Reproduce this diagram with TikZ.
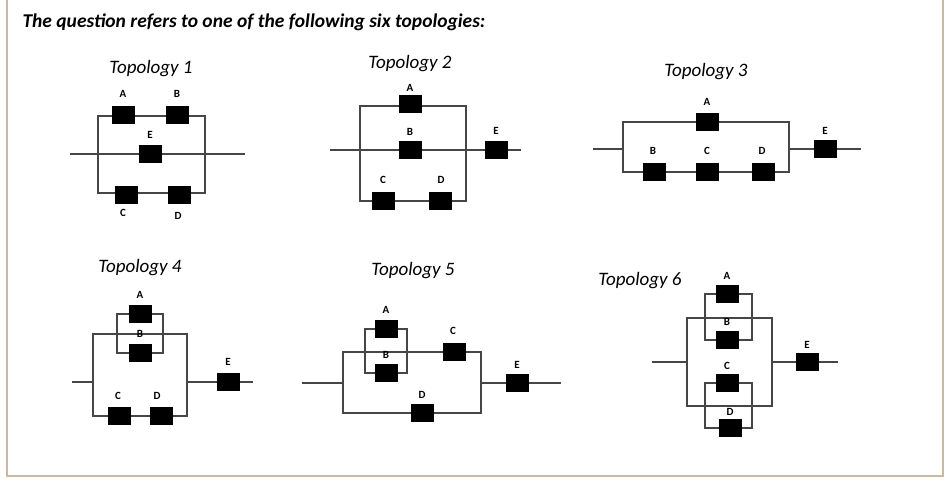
\documentclass[tikz,border=0pt]{standalone}
\usepackage{fontspec}
\setmainfont{Carlito}
\definecolor{frame}{RGB}{200,185,160}
\definecolor{wire}{RGB}{70,70,70}
\begin{document}
\begin{tikzpicture}[x=1pt,y=-1pt,
  w/.style={draw=wire,line width=1.2pt},
  blk/.style={fill=black,minimum width=23pt,minimum height=18pt,inner sep=0pt},
  lab/.style={font=\bfseries\fontsize{11}{12}\selectfont},
  ttl/.style={font=\itshape\fontsize{19}{22}\selectfont}]
\useasboundingbox (0,0) rectangle (948,481);
\draw[frame,line width=1.5pt] (7,0) -- (7,476) -- (943,476) -- (943,0);
\node[anchor=west,font=\bfseries\itshape\fontsize{19.5}{22}\selectfont] (title) at (19,22) {The question refers to one of the following six topologies:};
% ---------- Topology 1
\node[ttl] (t1) at (151,69) {Topology 1};
\draw[w] (98,116) rectangle (205,193);
\draw[w] (70,154) -- (245,154);
\node[blk] (a1) at (123,115) {}; \node[lab] at (123,94) {A};
\node[blk] (b1) at (177,115) {}; \node[lab] at (177,94) {B};
\node[blk] (e1) at (150,154) {}; \node[lab] at (150,135) {E};
\node[blk] (c1) at (126,195) {}; \node[lab] at (123,213) {C};
\node[blk] (d1) at (179,195) {}; \node[lab] at (178,216) {D};
% ---------- Topology 2
\node[ttl] (t2) at (410,64) {Topology 2};
\draw[w] (360,106) rectangle (466,201);
\draw[w] (330,150) -- (521,150);
\node[blk] (a2) at (410,104) {}; \node[lab] at (410,88) {A};
\node[blk] (b2) at (410,150) {}; \node[lab] at (410,132) {B};
\node[blk] (c2) at (383,201) {}; \node[lab] at (383,180) {C};
\node[blk] (d2) at (440,201) {}; \node[lab] at (441,180) {D};
\node[blk] (e2) at (496,150) {}; \node[lab] at (496,131) {E};
% ---------- Topology 3
\node[ttl] (t3) at (706,72) {Topology 3};
\draw[w] (623,122) rectangle (789,172);
\draw[w] (593,149) -- (623,149) (789,149) -- (861,149);
\node[blk] (a3) at (707,122) {}; \node[lab] at (707,102) {A};
\node[blk] (b3) at (654,172) {}; \node[lab] at (653,151) {B};
\node[blk] (c3) at (707,172) {}; \node[lab] at (707,151) {C};
\node[blk] (d3) at (763,172) {}; \node[lab] at (762,151) {D};
\node[blk] (e3) at (825,149) {}; \node[lab] at (825,131) {E};
% ---------- Topology 4
\node[ttl] (t4) at (140,268) {Topology 4};
\draw[w] (93,334) rectangle (187,416);
\draw[w] (117,314) rectangle (163,353);
\draw[w] (93,334) -- (117,334) (163,334) -- (187,334);
\draw[w] (72,382) -- (93,382) (187,382) -- (253,382);
\node[blk] (a4) at (140,314) {}; \node[lab] at (140,295) {A};
\node[blk] (b4) at (140,353) {}; \node[lab] at (140,334) {B};
\node[blk] (c4) at (119,416) {}; \node[lab] at (118,396) {C};
\node[blk] (d4) at (161,416) {}; \node[lab] at (157,396) {D};
\node[blk] (e4) at (228,382) {}; \node[lab] at (228,362) {E};
% ---------- Topology 5
\node[ttl] (t5) at (413,271) {Topology 5};
\draw[w] (343,352) rectangle (481,413);
\draw[w] (365,329) rectangle (407,373);
\draw[w] (343,352) -- (365,352) (407,352) -- (481,352);
\draw[w] (302,383) -- (343,383) (481,383) -- (561,383);
\node[blk] (a5) at (386,329) {}; \node[lab] at (386,310) {A};
\node[blk] (b5) at (386,373) {}; \node[lab] at (386,355) {B};
\node[blk] (c5) at (454,352) {}; \node[lab] at (453,331) {C};
\node[blk] (d5) at (422,413) {}; \node[lab] at (422,395) {D};
\node[blk] (e5) at (517,383) {}; \node[lab] at (517,365) {E};
% ---------- Topology 6
\node[ttl] (t6) at (640,281) {Topology 6};
\draw[w] (687,318) rectangle (772,406);
\draw[w] (705,294) rectangle (752,340);
\draw[w] (705,383) rectangle (752,428);
\draw[w] (652,362) -- (687,362) (772,362) -- (838,362);
\node[blk] (a6) at (727,294) {}; \node[lab] at (727,276) {A};
\node[blk] (b6) at (727,340) {}; \node[lab] at (727,322) {B};
\node[blk] (c6) at (727,383) {}; \node[lab] at (727,366) {C};
\node[blk] (d6) at (730,428) {}; \node[lab] at (730,412) {D};
\node[blk] (e6) at (807,362) {}; \node[lab] at (807,345) {E};
\end{tikzpicture}
\end{document}
